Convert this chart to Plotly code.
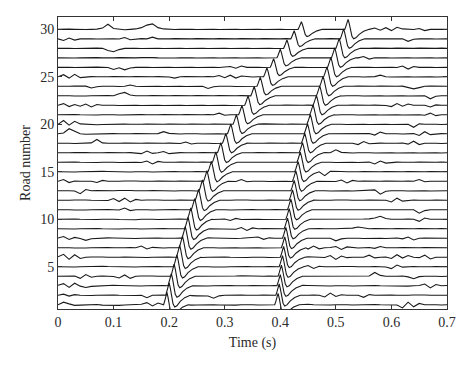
import plotly.graph_objects as go

# ---- data ----
ROAD_NUMBERS = list(range(1, 31))
TIME_GRID = [round(i * 0.01, 2) for i in range(71)]  # sample times (s) of the background records

# arrival time (s) of the first and second wave on each road (1..30)
ARRIVAL_1 = [0.190, 0.194, 0.198, 0.203, 0.208, 0.213, 0.218, 0.223, 0.228, 0.233,
             0.240, 0.247, 0.254, 0.262, 0.270, 0.278, 0.287, 0.296, 0.305, 0.315,
             0.325, 0.336, 0.347, 0.358, 0.370, 0.382, 0.394, 0.406, 0.419, 0.432]
ARRIVAL_2 = [0.390, 0.392, 0.394, 0.396, 0.398, 0.400, 0.402, 0.404, 0.407, 0.410,
             0.413, 0.416, 0.419, 0.422, 0.426, 0.430, 0.434, 0.438, 0.443, 0.448,
             0.453, 0.459, 0.465, 0.471, 0.478, 0.485, 0.492, 0.500, 0.508, 0.516]
# peak amplitude (in road spacings) of each wave
AMP_1 = [1.30, 1.30, 1.28, 1.28, 1.25, 1.25, 1.22, 1.22, 1.20, 1.20,
         1.18, 1.15, 1.15, 1.12, 1.10, 1.10, 1.08, 1.05, 1.05, 1.02,
         1.00, 1.00, 0.98, 0.95, 0.95, 0.92, 0.90, 0.88, 0.85, 0.80]
AMP_2 = [1.20, 1.20, 1.18, 1.18, 1.18, 1.15, 1.15, 1.15, 1.12, 1.12,
         1.12, 1.10, 1.10, 1.10, 1.08, 1.08, 1.08, 1.06, 1.06, 1.05,
         1.05, 1.05, 1.05, 1.05, 1.05, 1.05, 1.05, 1.05, 1.05, 1.05]
# wavelet shape: time after arrival (s) and normalised amplitude
WAVELET_DT = [0.000, 0.002, 0.004, 0.006, 0.008, 0.010, 0.013, 0.016, 0.020, 0.026, 0.034, 0.044]
WAVELET_SHAPE = [0.0, 0.3, 0.8, 1.0, 0.6, -0.1, -0.7, -0.95, -0.85, -0.5, -0.2, 0.0]

# background records, in 1/45 of a road spacing, one value per 0.01 s
NOISE_01 = [0,12,4,-3,-2,0,2,1,-2,-3, -4,-3,-1,0,1,2,10,-6,8,2, 0,1,2,0,-2,-1,0,1,0,-1, -2,-3,-2,0,1,0,-1,0,1,2,
            0,-2,-1,0,1,2,0,-1,-2,-1, 0,1,0,-1,0,1,2,1,0,-1, 0,-1,-15,12,-10,6,0,1,0,-1, 0]
NOISE_02 = [0,5,-4,3,0,-2,-1,0,1,2, 1,0,-1,-2,-1,0,-12,0,2,1, 0,1,0,-1,-2,-3,-2,-4,-14,-3, 0,1,2,1,0,-1,0,1,0,-1,
            0,1,2,0,-1,0,1,0,-8,10, -6,2,0,1,0,-10,3,0,1,2, 1,0,-1,0,1,2,1,0,-1,0, 0]
NOISE_03 = [2,10,-8,12,-2,-8,-3,-1,0,1, 2,1,0,-1,-2,-1,0,1,2,1, 0,-1,0,1,0,-1,-2,-1,0,1, 2,1,0,-1,0,1,0,-1,0,1,
            0,-1,0,1,2,1,0,-1,-2,-1, 0,1,0,-1,0,1,2,1,0,-1, 0,-2,-3,-2,0,1,8,-10,6,0, 1]
NOISE_04 = [0,1,2,1,-10,8,-5,0,1,0, -1,-8,6,-10,0,1,2,1,0,-1, 0,1,2,0,-1,0,1,0,-1,-2, -1,0,1,2,1,0,-1,0,1,0,
            -1,0,1,0,-1,0,1,2,1,0, -1,0,1,0,-1,0,1,18,4,0, -1,0,1,-3,-12,-2,0,1,0,-1, 0]
NOISE_05 = [0,-1,-2,-1,0,1,2,3,2,1, 0,-1,-2,-2,-1,0,1,2,1,0, -1,-2,-1,0,1,2,1,0,-1,-2, -1,0,1,2,1,0,-1,0,1,0,
            -1,0,1,0,-1,6,-8,2,0,-1, 0,1,2,1,0,-1,0,1,0,-1, -9,8,-2,0,1,0,-1,0,1,0, 0]
NOISE_06 = [2,14,-10,12,-6,0,1,2,1,0, -1,0,1,0,-1,-2,-1,0,1,2, 1,0,-1,0,1,0,-1,0,1,2, 1,0,-1,-2,-1,0,1,0,-1,0,
            1,0,-1,0,1,2,1,0,-1,8, -10,6,-2,0,1,0,10,-3,0,1, -6,12,-4,8,0,-2,10,-8,0,1, 0]
NOISE_07 = [0,1,0,-1,-2,-1,0,1,2,1, 0,-1,0,1,0,8,-6,2,0,-1, 0,1,0,-1,0,1,2,1,0,-1, 0,1,0,-1,0,1,0,-1,0,1,
            0,-1,0,1,0,-6,8,-5,0,1, 6,-8,4,0,-1,0,1,-3,6,0, -1,0,1,0,-1,0,1,0,-1,0, 0]
NOISE_08 = [1,8,-6,4,-1,-10,-2,0,1,2, 1,0,-1,-2,-1,0,1,2,1,0, -1,0,1,0,-1,0,1,2,1,0, -1,-2,-1,0,1,2,6,-5,2,0,
            -1,0,1,0,-1,0,1,0,-1,0, -12,-3,0,1,0,-1,0,1,0,-1, 0,1,-3,6,-8,0,1,0,-1,0, 0]
NOISE_09 = [0,-1,-2,-1,0,1,2,1,0,-1, -2,-1,0,1,0,-1,0,1,2,1, 0,-1,0,1,0,-1,-2,-1,0,1, 0,1,-2,6,-8,4,0,1,0,-1,
            0,1,0,-1,0,1,2,1,0,-1, 0,1,2,3,8,4,0,1,0,-1, 0,1,0,-1,0,1,0,-1,0,1, 0]
NOISE_10 = [0,1,2,1,0,-1,-2,-1,0,1, 0,-1,-2,-3,-2,0,1,0,-1,0, 1,2,1,0,-1,0,1,0,-1,0, 1,-6,4,-1,0,1,0,-1,0,1,
            0,-1,0,1,2,1,0,-1,-2,-1, 0,1,0,-1,0,1,2,6,14,4, 0,-1,0,1,0,-10,6,0,1,0, 0]
NOISE_11 = [0,1,0,-1,-2,-1,0,1,2,1, 0,-1,8,-4,0,1,0,-1,0,1, 2,1,0,-1,0,1,0,-1,0,1, 0,-1,0,1,2,1,0,-1,0,1,
            0,-1,0,1,0,-1,0,1,2,1, 0,-1,0,1,0,-1,0,1,0,-1, 0,1,0,-1,0,-16,-4,0,1,0, 0]
NOISE_12 = [0,-1,0,1,2,1,0,-1,-2,-1, 8,-6,10,-8,4,0,1,2,1,0, -1,0,1,0,-1,-2,-1,0,1,0, -1,0,1,2,1,0,-1,0,1,0,
            -1,0,1,0,-1,0,1,0,-1,0, 1,2,1,0,-1,0,1,0,-1,0, -8,10,-4,0,1,0,-1,0,1,0, 0]
NOISE_13 = [0,1,0,-1,-14,6,0,1,0,-1, 0,1,2,1,0,-1,0,1,0,-1, -2,-1,0,1,0,-1,0,1,2,1, 0,-1,0,1,0,-1,0,1,0,-1,
            0,1,0,-1,0,1,2,1,0,-1, 0,1,0,-1,0,1,0,4,-16,-2, 0,1,0,-1,0,1,0,-1,0,1, 0]
NOISE_14 = [0,8,-6,1,0,-1,0,-6,4,0, -1,0,1,2,1,0,-1,0,1,0, -1,0,1,0,-1,0,1,0,-1,0, 1,0,-1,8,-2,0,1,0,-1,0,
            1,0,-1,0,1,0,-1,0,1,0, -1,6,-8,4,0,1,0,-1,0,1, 0,-1,0,1,0,8,-2,0,1,0, 0]
NOISE_15 = [0,-1,-2,-1,0,1,2,3,2,1, 0,-1,-2,-1,0,1,0,-1,0,1, 2,1,0,-1,0,1,0,-1,0,1, 0,-1,0,1,0,-1,0,1,2,1,
            0,-1,0,1,0,-1,0,1,-18,2, 0,1,0,-1,0,1,0,-1,0,1, 0,-1,0,1,0,-1,0,1,0,-1, 0]
NOISE_16 = [0,1,2,1,0,-1,-2,-1,0,1, 0,-1,0,1,0,-1,6,-8,4,0, -1,0,1,0,-1,0,1,2,1,0, -1,0,1,0,-1,0,1,0,-1,0,
            1,0,-1,0,1,0,-1,0,1,0, -1,0,1,0,-1,0,1,-8,6,-4, 0,1,0,-1,0,1,0,-1,0,1, 0]
NOISE_17 = [0,-1,0,1,2,1,0,-1,0,1, 0,-1,0,1,0,-4,8,-3,0,6, -4,0,1,0,-1,0,1,0,-1,0, 1,2,1,0,-1,0,1,0,-1,0,
            1,0,-1,0,1,0,-1,0,1,0, 14,2,0,-1,0,1,0,-1,0,1, 0,-1,0,1,0,-1,0,1,0,-1, 0]
NOISE_18 = [0,1,0,-1,0,1,2,18,2,0, -1,0,1,0,-1,0,1,0,-1,0, 1,0,-1,6,-3,0,1,0,-1,0, 1,0,-1,0,1,0,-1,0,1,0,
            -1,0,1,0,-1,0,1,0,-1,0, 1,0,-1,0,-6,8,-2,0,1,0, -1,0,1,-4,10,-6,0,1,0,-1, 0]
NOISE_19 = [0,4,24,10,0,-2,-1,0,1,2, 1,0,-1,0,1,0,-1,0,1,10, 2,0,-1,0,1,0,-1,0,1,0, -1,0,1,0,-1,0,1,0,-1,0,
            1,0,-1,0,1,0,-1,0,1,0, -1,0,1,0,-1,0,1,-6,8,0, 1,0,-1,0,1,-8,10,-4,0,1, 0]
NOISE_20 = [0,18,-4,14,2,0,-1,-2,-1,0, 1,2,1,0,-1,0,1,0,-1,0, 1,0,-1,0,1,0,-1,0,1,0, -1,0,1,0,-1,0,1,2,1,0,
            -1,0,1,0,-1,0,1,0,-1,0, 1,0,-1,0,1,0,-1,0,1,0, -1,0,1,0,-14,2,0,1,0,-1, 0]
NOISE_21 = [0,1,2,1,0,-1,-2,-1,0,1, 0,-1,0,1,2,1,0,-1,0,1, 0,-1,0,1,0,-1,0,1,0,8, -2,0,1,0,-1,0,1,0,-1,0,
            1,0,-1,0,1,0,-1,0,1,0, -1,0,1,0,-1,0,1,0,-1,0, 1,0,-1,0,1,0,-2,8,-4,0, 0]
NOISE_22 = [0,8,-6,4,-4,6,-8,4,0,1, 0,-1,0,1,0,-1,0,1,0,-1, 0,1,0,-1,0,1,0,-1,0,1, 0,-1,0,1,0,-1,0,1,0,-1,
            0,1,0,-1,0,1,0,-1,0,1, 0,-1,0,1,0,-1,0,1,0,-1, -6,8,-4,6,0,-1,0,-8,2,0, 0]
NOISE_23 = [0,1,0,-1,-2,-1,0,1,2,1, 0,10,16,4,0,-1,0,1,0,-1, 0,1,0,-1,0,1,0,-1,0,1, 0,-1,0,1,0,-1,0,1,0,-1,
            0,1,0,-1,0,1,0,-1,0,1, 0,-1,0,1,0,-1,0,1,0,-1, 0,1,0,-1,0,1,0,-14,-2,0, 0]
NOISE_24 = [0,-1,0,1,2,1,-8,-2,0,1, 0,-1,0,6,0,-1,0,1,0,-1, 0,1,0,-1,0,1,0,-10,-2,0, 1,0,-1,0,1,0,-1,0,1,0,
            -1,0,1,0,-1,0,1,0,-1,0, 1,0,-1,0,1,0,-1,0,1,0, -1,0,1,-4,-12,-6,0,1,0,-1, 0]
NOISE_25 = [0,10,-6,12,-4,0,1,0,-1,0, 1,0,-1,0,1,0,-1,0,1,0, -1,-6,0,1,0,-1,0,1,0,6, -4,8,-6,4,0,-1,0,1,0,-1,
            0,1,0,-1,0,1,0,-1,0,1, 0,-1,0,1,0,-1,0,1,8,0, -1,0,1,0,-1,0,1,0,-1,0, 0]
NOISE_26 = [0,1,0,-1,0,1,2,1,0,-1, -10,-2,-12,-3,0,1,0,-1,0,1, 0,-1,0,1,0,-1,0,1,0,-1, 0,4,-4,6,0,1,0,-1,0,1,
            0,-1,0,1,0,-1,0,1,0,-1, 0,1,0,-1,0,1,0,-1,0,1, 0,-1,6,-8,4,0,1,0,-1,0, 0]
NOISE_27 = [0,-1,-2,-1,0,1,2,1,0,-1, 0,1,0,-1,0,1,2,1,0,-1, -2,-1,0,1,0,-1,0,1,0,-1, 0,1,0,-1,0,1,0,-1,0,1,
            0,-1,0,1,0,-1,0,1,0,-1, 0,1,0,-1,0,6,-6,0,1,0, -1,0,1,0,-1,0,1,0,-1,0, 0]
NOISE_28 = [0,1,0,-1,0,1,2,1,0,-10, -16,-6,0,1,0,-1,0,1,0,-1, 0,1,0,-1,0,1,0,-1,0,1, 0,-1,0,1,0,-1,0,1,0,-1,
            0,1,0,-1,0,1,0,-1,0,1, 0,-1,0,1,0,-1,0,1,0,-1, 0,1,0,-1,0,1,0,-1,0,1, 0]
NOISE_29 = [0,-8,4,-6,0,1,0,-1,0,1, 0,-1,6,-4,0,1,0,8,0,-1, 0,1,0,-1,0,1,0,-1,0,1, 0,-1,0,1,0,-1,0,1,0,-1,
            0,1,0,-1,0,1,0,-1,0,1, 0,-1,0,1,0,-1,0,1,0,-1, 0,1,0,-12,-2,0,1,0,-1,0, 0]
NOISE_30 = [0,2,1,0,-2,-1,0,1,6,24, 4,0,-2,0,2,8,20,26,8,2, 0,-1,0,1,0,-1,0,1,0,-1, 0,1,0,-1,0,1,0,-1,0,1,
            0,-1,0,1,0,-1,0,1,0,-1, 0,1,0,-1,0,1,0,6,-4,8, -6,10,2,0,-1,4,-6,0,1,0, 0]

NOISE = [NOISE_01, NOISE_02, NOISE_03, NOISE_04, NOISE_05, NOISE_06, NOISE_07, NOISE_08, NOISE_09, NOISE_10,
         NOISE_11, NOISE_12, NOISE_13, NOISE_14, NOISE_15, NOISE_16, NOISE_17, NOISE_18, NOISE_19, NOISE_20,
         NOISE_21, NOISE_22, NOISE_23, NOISE_24, NOISE_25, NOISE_26, NOISE_27, NOISE_28, NOISE_29, NOISE_30]
NOISE_UNIT = 45.0  # noise values are given in 1/45 of a road spacing

X_TICKS = [0, 0.1, 0.2, 0.3, 0.4, 0.5, 0.6, 0.7]
X_TICK_TEXT = ["0", "0.1", "0.2", "0.3", "0.4", "0.5", "0.6", "0.7"]
Y_TICKS = [5, 10, 15, 20, 25, 30]

# ---- build figure ----
fig = go.Figure()
win = WAVELET_DT[-1]
for k, road in enumerate(ROAD_NUMBERS):
    arrivals = [(ARRIVAL_1[k], AMP_1[k]), (ARRIVAL_2[k], AMP_2[k])]
    pts = []
    for t, v in zip(TIME_GRID, NOISE[k]):
        if any(a <= t <= a + win for a, _ in arrivals):
            continue
        pts.append((t, v / NOISE_UNIT))
    for a, amp in arrivals:
        for dt, s in zip(WAVELET_DT, WAVELET_SHAPE):
            pts.append((a + dt, amp * s))
    pts.sort()
    fig.add_trace(go.Scatter(
        x=[p[0] for p in pts],
        y=[road + p[1] for p in pts],
        mode="lines",
        line=dict(color="#1a1a1a", width=1.1),
        showlegend=False,
        hoverinfo="skip",
    ))

font = dict(family="Liberation Serif, Times New Roman, serif", size=14, color="#2a2a2a")
# the page body adds an 8 px offset, so the figure is 8 px smaller and margins shifted
fig.update_layout(
    width=466, height=361,
    margin=dict(l=49.5, r=27, t=9, b=60),
    paper_bgcolor="white", plot_bgcolor="white",
    font=font,
)
fig.update_xaxes(
    range=[0, 0.7], tickvals=X_TICKS, ticktext=X_TICK_TEXT,
    ticks="inside", ticklen=4, tickcolor="#333", mirror="ticks",
    showline=True, linecolor="#333", linewidth=1, showgrid=False, zeroline=False,
    title=dict(text="Time (s)", font=font, standoff=8),
)
fig.update_yaxes(
    range=[0.55, 31.3], tickvals=Y_TICKS,
    ticks="inside", ticklen=4, tickcolor="#333", mirror="ticks",
    showline=True, linecolor="#333", linewidth=1, showgrid=False, zeroline=False,
    title=dict(text="Road number", font=font, standoff=6),
)
fig.write_html("out.html")
